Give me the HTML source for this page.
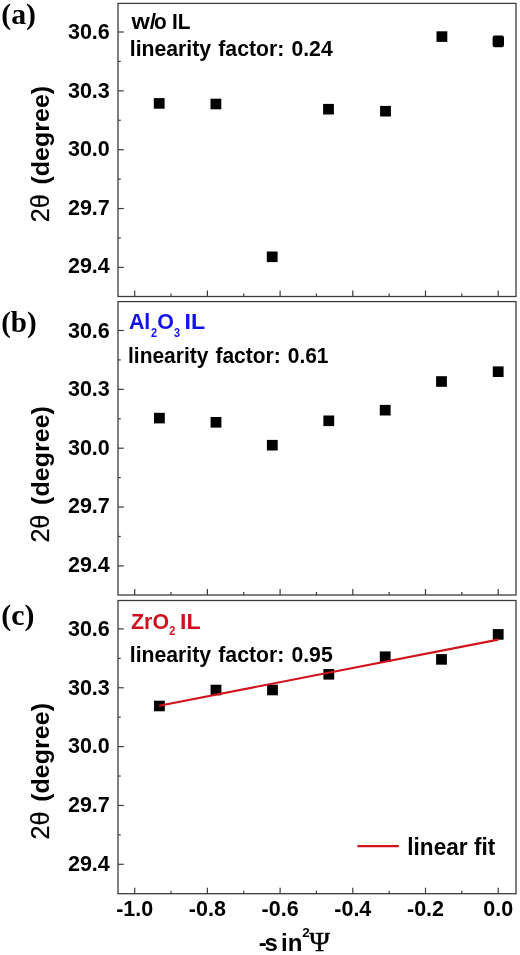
<!DOCTYPE html>
<html><head><meta charset="utf-8"><title>Figure</title>
<style>
html,body{margin:0;padding:0;background:#fff;}
body{width:520px;height:955px;overflow:hidden;}
svg{display:block;}
text{font-family:"Liberation Sans",sans-serif;font-weight:700;}
.tk{font-size:21.5px;}
.an{font-size:21.8px;}
.lg{font-size:23.2px;}
.xt{font-size:24px;}
.yt{font-size:24.2px;}
.pl{font-family:"Liberation Serif",serif;font-size:29px;}
.sub{font-size:13.4px;font-weight:400;}
.sb{font-size:13.6px;}
.psi{font-family:"Liberation Serif",serif;font-size:26.4px;font-weight:400;stroke:#000;stroke-width:0.5px;}
</style></head><body>
<svg width="520" height="955" viewBox="0 0 520 955">
<rect width="520" height="955" fill="#fff"/>
<rect x="118.0" y="3.4" width="398.0" height="293.1" fill="none" stroke="#3c3c3c" stroke-width="1.3"/>
<line x1="118.0" x2="123.8" y1="32.0" y2="32.0" stroke="#3c3c3c" stroke-width="1.2"/>
<line x1="118.0" x2="123.8" y1="90.85" y2="90.85" stroke="#3c3c3c" stroke-width="1.2"/>
<line x1="118.0" x2="123.8" y1="149.7" y2="149.7" stroke="#3c3c3c" stroke-width="1.2"/>
<line x1="118.0" x2="123.8" y1="208.55" y2="208.55" stroke="#3c3c3c" stroke-width="1.2"/>
<line x1="118.0" x2="123.8" y1="267.4" y2="267.4" stroke="#3c3c3c" stroke-width="1.2"/>
<line x1="118.0" x2="120.8" y1="61.425" y2="61.425" stroke="#3c3c3c" stroke-width="1.2"/>
<line x1="118.0" x2="120.8" y1="120.275" y2="120.275" stroke="#3c3c3c" stroke-width="1.2"/>
<line x1="118.0" x2="120.8" y1="179.125" y2="179.125" stroke="#3c3c3c" stroke-width="1.2"/>
<line x1="118.0" x2="120.8" y1="237.975" y2="237.975" stroke="#3c3c3c" stroke-width="1.2"/>
<line x1="498.2" x2="498.2" y1="296.5" y2="290.5" stroke="#3c3c3c" stroke-width="1.2"/>
<line x1="425.5" x2="425.5" y1="296.5" y2="290.5" stroke="#3c3c3c" stroke-width="1.2"/>
<line x1="352.79999999999995" x2="352.79999999999995" y1="296.5" y2="290.5" stroke="#3c3c3c" stroke-width="1.2"/>
<line x1="280.09999999999997" x2="280.09999999999997" y1="296.5" y2="290.5" stroke="#3c3c3c" stroke-width="1.2"/>
<line x1="207.39999999999998" x2="207.39999999999998" y1="296.5" y2="290.5" stroke="#3c3c3c" stroke-width="1.2"/>
<line x1="134.7" x2="134.7" y1="296.5" y2="290.5" stroke="#3c3c3c" stroke-width="1.2"/>
<line x1="461.84999999999997" x2="461.84999999999997" y1="296.5" y2="293.5" stroke="#3c3c3c" stroke-width="1.2"/>
<line x1="389.15" x2="389.15" y1="296.5" y2="293.5" stroke="#3c3c3c" stroke-width="1.2"/>
<line x1="316.45" x2="316.45" y1="296.5" y2="293.5" stroke="#3c3c3c" stroke-width="1.2"/>
<line x1="243.74999999999997" x2="243.74999999999997" y1="296.5" y2="293.5" stroke="#3c3c3c" stroke-width="1.2"/>
<line x1="171.04999999999995" x2="171.04999999999995" y1="296.5" y2="293.5" stroke="#3c3c3c" stroke-width="1.2"/>
<text class="tk" transform="translate(109.8,39.1) scale(1.0,1)" fill="#000" text-anchor="end">30.6</text>
<text class="tk" transform="translate(109.8,97.66) scale(1.0,1)" fill="#000" text-anchor="end">30.3</text>
<text class="tk" transform="translate(109.8,156.22) scale(1.0,1)" fill="#000" text-anchor="end">30.0</text>
<text class="tk" transform="translate(109.8,214.78) scale(1.0,1)" fill="#000" text-anchor="end">29.7</text>
<text class="tk" transform="translate(109.8,273.34) scale(1.0,1)" fill="#000" text-anchor="end">29.4</text>
<rect x="118.0" y="301.6" width="398.0" height="293.4" fill="none" stroke="#3c3c3c" stroke-width="1.3"/>
<line x1="118.0" x2="123.8" y1="330.5" y2="330.5" stroke="#3c3c3c" stroke-width="1.2"/>
<line x1="118.0" x2="123.8" y1="389.35" y2="389.35" stroke="#3c3c3c" stroke-width="1.2"/>
<line x1="118.0" x2="123.8" y1="448.2" y2="448.2" stroke="#3c3c3c" stroke-width="1.2"/>
<line x1="118.0" x2="123.8" y1="507.05" y2="507.05" stroke="#3c3c3c" stroke-width="1.2"/>
<line x1="118.0" x2="123.8" y1="565.9" y2="565.9" stroke="#3c3c3c" stroke-width="1.2"/>
<line x1="118.0" x2="120.8" y1="359.925" y2="359.925" stroke="#3c3c3c" stroke-width="1.2"/>
<line x1="118.0" x2="120.8" y1="418.775" y2="418.775" stroke="#3c3c3c" stroke-width="1.2"/>
<line x1="118.0" x2="120.8" y1="477.625" y2="477.625" stroke="#3c3c3c" stroke-width="1.2"/>
<line x1="118.0" x2="120.8" y1="536.475" y2="536.475" stroke="#3c3c3c" stroke-width="1.2"/>
<line x1="498.2" x2="498.2" y1="595.0" y2="589.0" stroke="#3c3c3c" stroke-width="1.2"/>
<line x1="425.5" x2="425.5" y1="595.0" y2="589.0" stroke="#3c3c3c" stroke-width="1.2"/>
<line x1="352.79999999999995" x2="352.79999999999995" y1="595.0" y2="589.0" stroke="#3c3c3c" stroke-width="1.2"/>
<line x1="280.09999999999997" x2="280.09999999999997" y1="595.0" y2="589.0" stroke="#3c3c3c" stroke-width="1.2"/>
<line x1="207.39999999999998" x2="207.39999999999998" y1="595.0" y2="589.0" stroke="#3c3c3c" stroke-width="1.2"/>
<line x1="134.7" x2="134.7" y1="595.0" y2="589.0" stroke="#3c3c3c" stroke-width="1.2"/>
<line x1="461.84999999999997" x2="461.84999999999997" y1="595.0" y2="592.0" stroke="#3c3c3c" stroke-width="1.2"/>
<line x1="389.15" x2="389.15" y1="595.0" y2="592.0" stroke="#3c3c3c" stroke-width="1.2"/>
<line x1="316.45" x2="316.45" y1="595.0" y2="592.0" stroke="#3c3c3c" stroke-width="1.2"/>
<line x1="243.74999999999997" x2="243.74999999999997" y1="595.0" y2="592.0" stroke="#3c3c3c" stroke-width="1.2"/>
<line x1="171.04999999999995" x2="171.04999999999995" y1="595.0" y2="592.0" stroke="#3c3c3c" stroke-width="1.2"/>
<text class="tk" transform="translate(109.8,337.95) scale(1.0,1)" fill="#000" text-anchor="end">30.6</text>
<text class="tk" transform="translate(109.8,396.45) scale(1.0,1)" fill="#000" text-anchor="end">30.3</text>
<text class="tk" transform="translate(109.8,454.95) scale(1.0,1)" fill="#000" text-anchor="end">30.0</text>
<text class="tk" transform="translate(109.8,513.45) scale(1.0,1)" fill="#000" text-anchor="end">29.7</text>
<text class="tk" transform="translate(109.8,571.95) scale(1.0,1)" fill="#000" text-anchor="end">29.4</text>
<rect x="118.0" y="600.5" width="398.0" height="293.20000000000005" fill="none" stroke="#3c3c3c" stroke-width="1.3"/>
<line x1="118.0" x2="123.8" y1="628.9" y2="628.9" stroke="#3c3c3c" stroke-width="1.2"/>
<line x1="118.0" x2="123.8" y1="687.75" y2="687.75" stroke="#3c3c3c" stroke-width="1.2"/>
<line x1="118.0" x2="123.8" y1="746.6" y2="746.6" stroke="#3c3c3c" stroke-width="1.2"/>
<line x1="118.0" x2="123.8" y1="805.45" y2="805.45" stroke="#3c3c3c" stroke-width="1.2"/>
<line x1="118.0" x2="123.8" y1="864.3" y2="864.3" stroke="#3c3c3c" stroke-width="1.2"/>
<line x1="118.0" x2="120.8" y1="658.3249999999999" y2="658.3249999999999" stroke="#3c3c3c" stroke-width="1.2"/>
<line x1="118.0" x2="120.8" y1="717.175" y2="717.175" stroke="#3c3c3c" stroke-width="1.2"/>
<line x1="118.0" x2="120.8" y1="776.025" y2="776.025" stroke="#3c3c3c" stroke-width="1.2"/>
<line x1="118.0" x2="120.8" y1="834.875" y2="834.875" stroke="#3c3c3c" stroke-width="1.2"/>
<line x1="498.2" x2="498.2" y1="893.7" y2="887.7" stroke="#3c3c3c" stroke-width="1.2"/>
<line x1="425.5" x2="425.5" y1="893.7" y2="887.7" stroke="#3c3c3c" stroke-width="1.2"/>
<line x1="352.79999999999995" x2="352.79999999999995" y1="893.7" y2="887.7" stroke="#3c3c3c" stroke-width="1.2"/>
<line x1="280.09999999999997" x2="280.09999999999997" y1="893.7" y2="887.7" stroke="#3c3c3c" stroke-width="1.2"/>
<line x1="207.39999999999998" x2="207.39999999999998" y1="893.7" y2="887.7" stroke="#3c3c3c" stroke-width="1.2"/>
<line x1="134.7" x2="134.7" y1="893.7" y2="887.7" stroke="#3c3c3c" stroke-width="1.2"/>
<line x1="461.84999999999997" x2="461.84999999999997" y1="893.7" y2="890.7" stroke="#3c3c3c" stroke-width="1.2"/>
<line x1="389.15" x2="389.15" y1="893.7" y2="890.7" stroke="#3c3c3c" stroke-width="1.2"/>
<line x1="316.45" x2="316.45" y1="893.7" y2="890.7" stroke="#3c3c3c" stroke-width="1.2"/>
<line x1="243.74999999999997" x2="243.74999999999997" y1="893.7" y2="890.7" stroke="#3c3c3c" stroke-width="1.2"/>
<line x1="171.04999999999995" x2="171.04999999999995" y1="893.7" y2="890.7" stroke="#3c3c3c" stroke-width="1.2"/>
<text class="tk" transform="translate(109.8,636.1) scale(1.0,1)" fill="#000" text-anchor="end">30.6</text>
<text class="tk" transform="translate(109.8,694.7) scale(1.0,1)" fill="#000" text-anchor="end">30.3</text>
<text class="tk" transform="translate(109.8,753.3) scale(1.0,1)" fill="#000" text-anchor="end">30.0</text>
<text class="tk" transform="translate(109.8,811.9) scale(1.0,1)" fill="#000" text-anchor="end">29.7</text>
<text class="tk" transform="translate(109.8,870.5) scale(1.0,1)" fill="#000" text-anchor="end">29.4</text>
<text class="tk" transform="translate(498.2,916.3) scale(1.0,1)" fill="#000" text-anchor="middle">0.0</text>
<text class="tk" transform="translate(425.5,916.3) scale(1.0,1)" fill="#000" text-anchor="middle">-0.2</text>
<text class="tk" transform="translate(352.79999999999995,916.3) scale(1.0,1)" fill="#000" text-anchor="middle">-0.4</text>
<text class="tk" transform="translate(280.09999999999997,916.3) scale(1.0,1)" fill="#000" text-anchor="middle">-0.6</text>
<text class="tk" transform="translate(207.39999999999998,916.3) scale(1.0,1)" fill="#000" text-anchor="middle">-0.8</text>
<text class="tk" transform="translate(134.7,916.3) scale(1.0,1)" fill="#000" text-anchor="middle">-1.0</text>
<rect x="153.8" y="98.1" width="10.8" height="10.6" fill="#000"/>
<rect x="210.5" y="98.7" width="10.8" height="10.6" fill="#000"/>
<rect x="266.8" y="251.5" width="10.8" height="10.6" fill="#000"/>
<rect x="323.1" y="103.9" width="10.8" height="10.6" fill="#000"/>
<rect x="380.1" y="105.9" width="10.8" height="10.6" fill="#000"/>
<rect x="436.5" y="31.3" width="10.8" height="10.6" fill="#000"/>
<rect x="154.0" y="412.8" width="10.8" height="10.6" fill="#000"/>
<rect x="210.6" y="417.0" width="10.8" height="10.6" fill="#000"/>
<rect x="266.9" y="439.9" width="10.8" height="10.6" fill="#000"/>
<rect x="323.4" y="415.5" width="10.8" height="10.6" fill="#000"/>
<rect x="379.8" y="404.9" width="10.8" height="10.6" fill="#000"/>
<rect x="436.1" y="376.2" width="10.8" height="10.6" fill="#000"/>
<rect x="492.8" y="366.4" width="10.8" height="10.6" fill="#000"/>
<rect x="154.0" y="700.7" width="10.8" height="10.6" fill="#000"/>
<rect x="210.6" y="684.7" width="10.8" height="10.6" fill="#000"/>
<rect x="267.1" y="684.7" width="10.8" height="10.6" fill="#000"/>
<rect x="323.4" y="669.0" width="10.8" height="10.6" fill="#000"/>
<rect x="379.8" y="651.4" width="10.8" height="10.6" fill="#000"/>
<rect x="436.1" y="654.1" width="10.8" height="10.6" fill="#000"/>
<rect x="492.8" y="629.1" width="10.8" height="10.6" fill="#000"/>
<rect x="492.6" y="35.6" width="11.4" height="11.6" rx="2.2" fill="#000"/>
<line x1="159.2" y1="705.8" x2="498.3" y2="639.6" stroke="#d0121c" stroke-width="2.1"/>
<line x1="357.4" y1="846.2" x2="398.8" y2="846.2" stroke="#d0121c" stroke-width="2.3"/>
<text class="pl" transform="translate(1.2,24.2) scale(1.03,1)" fill="#000">(a)</text>
<text class="pl" transform="translate(1.2,331.5) scale(1.0,1)" fill="#000">(b)</text>
<text class="pl" transform="translate(1.2,625.4) scale(1.03,1)" fill="#000">(c)</text>
<text class="an" y="28.8" fill="#000" xml:space="preserve"><tspan x="131.60" textLength="18.31" lengthAdjust="spacingAndGlyphs">w</tspan><tspan x="149.70" textLength="6.36" lengthAdjust="spacingAndGlyphs">/</tspan><tspan x="153.90" textLength="12.74" lengthAdjust="spacingAndGlyphs">o</tspan><tspan x="166.10" textLength="24.34" lengthAdjust="spacingAndGlyphs"> IL</tspan></text>
<text class="an" transform="translate(129.8,56.0) scale(0.973,1)" fill="#000" style="word-spacing:1.3px">linearity factor: 0.24</text>
<text class="an" fill="#1212ee" xml:space="preserve"><tspan x="128.90" y="329.00" textLength="21.43" lengthAdjust="spacingAndGlyphs">Al</tspan><tspan x="150.90" y="337.20" class="sb" textLength="6.05" lengthAdjust="spacingAndGlyphs">2</tspan><tspan x="157.30" y="329.00" textLength="16.67" lengthAdjust="spacingAndGlyphs">O</tspan><tspan x="173.90" y="337.20" class="sb" textLength="6.05" lengthAdjust="spacingAndGlyphs">3</tspan><tspan x="178.16" y="329.00" textLength="27.06" lengthAdjust="spacingAndGlyphs"> IL</tspan></text>
<text class="an" transform="translate(128.0,363.2) scale(0.962,1)" fill="#000" style="word-spacing:1.3px">linearity factor: 0.61</text>
<text class="an" fill="#d0101e" xml:space="preserve"><tspan x="131.00" y="628.70" textLength="38.10" lengthAdjust="spacingAndGlyphs">ZrO</tspan><tspan x="169.20" y="635.40" class="sb" textLength="6.05" lengthAdjust="spacingAndGlyphs">2</tspan><tspan x="173.56" y="628.70" textLength="27.06" lengthAdjust="spacingAndGlyphs"> IL</tspan></text>
<text class="an" transform="translate(129.8,661.5) scale(0.973,1)" fill="#000" style="word-spacing:1.3px">linearity factor: 0.95</text>
<text class="lg" transform="translate(407.3,854.8) scale(0.975,1)" fill="#000">linear fit</text>
<text class="xt" y="951" fill="#000"><tspan x="258.7">-</tspan><tspan x="264.4">s</tspan><tspan x="281">in</tspan><tspan x="302.2" y="936.9" style="font-size:13.5px">2</tspan><tspan x="309.30" y="951.30" class="psi" textLength="20.65" lengthAdjust="spacingAndGlyphs">Ψ</tspan></text>
<text class="yt" transform="translate(49.2,223.0) rotate(-90)" fill="#000" xml:space="preserve"><tspan x="0.70" y="0.00" style="font-weight:400;font-size:25.8px;stroke:#000;stroke-width:0.25px" textLength="27.98" lengthAdjust="spacingAndGlyphs">2θ</tspan><tspan x="31.44" y="0.00" textLength="105.78" lengthAdjust="spacingAndGlyphs"> (degree)</tspan></text>
<text class="yt" transform="translate(49.2,543.3) rotate(-90)" fill="#000" xml:space="preserve"><tspan x="0.70" y="0.00" style="font-weight:400;font-size:25.8px;stroke:#000;stroke-width:0.25px" textLength="27.98" lengthAdjust="spacingAndGlyphs">2θ</tspan><tspan x="31.44" y="0.00" textLength="105.78" lengthAdjust="spacingAndGlyphs"> (degree)</tspan></text>
<text class="yt" transform="translate(49.2,840.2) rotate(-90)" fill="#000" xml:space="preserve"><tspan x="0.70" y="0.00" style="font-weight:400;font-size:25.8px;stroke:#000;stroke-width:0.25px" textLength="27.98" lengthAdjust="spacingAndGlyphs">2θ</tspan><tspan x="31.44" y="0.00" textLength="105.78" lengthAdjust="spacingAndGlyphs"> (degree)</tspan></text>
</svg>
</body></html>
